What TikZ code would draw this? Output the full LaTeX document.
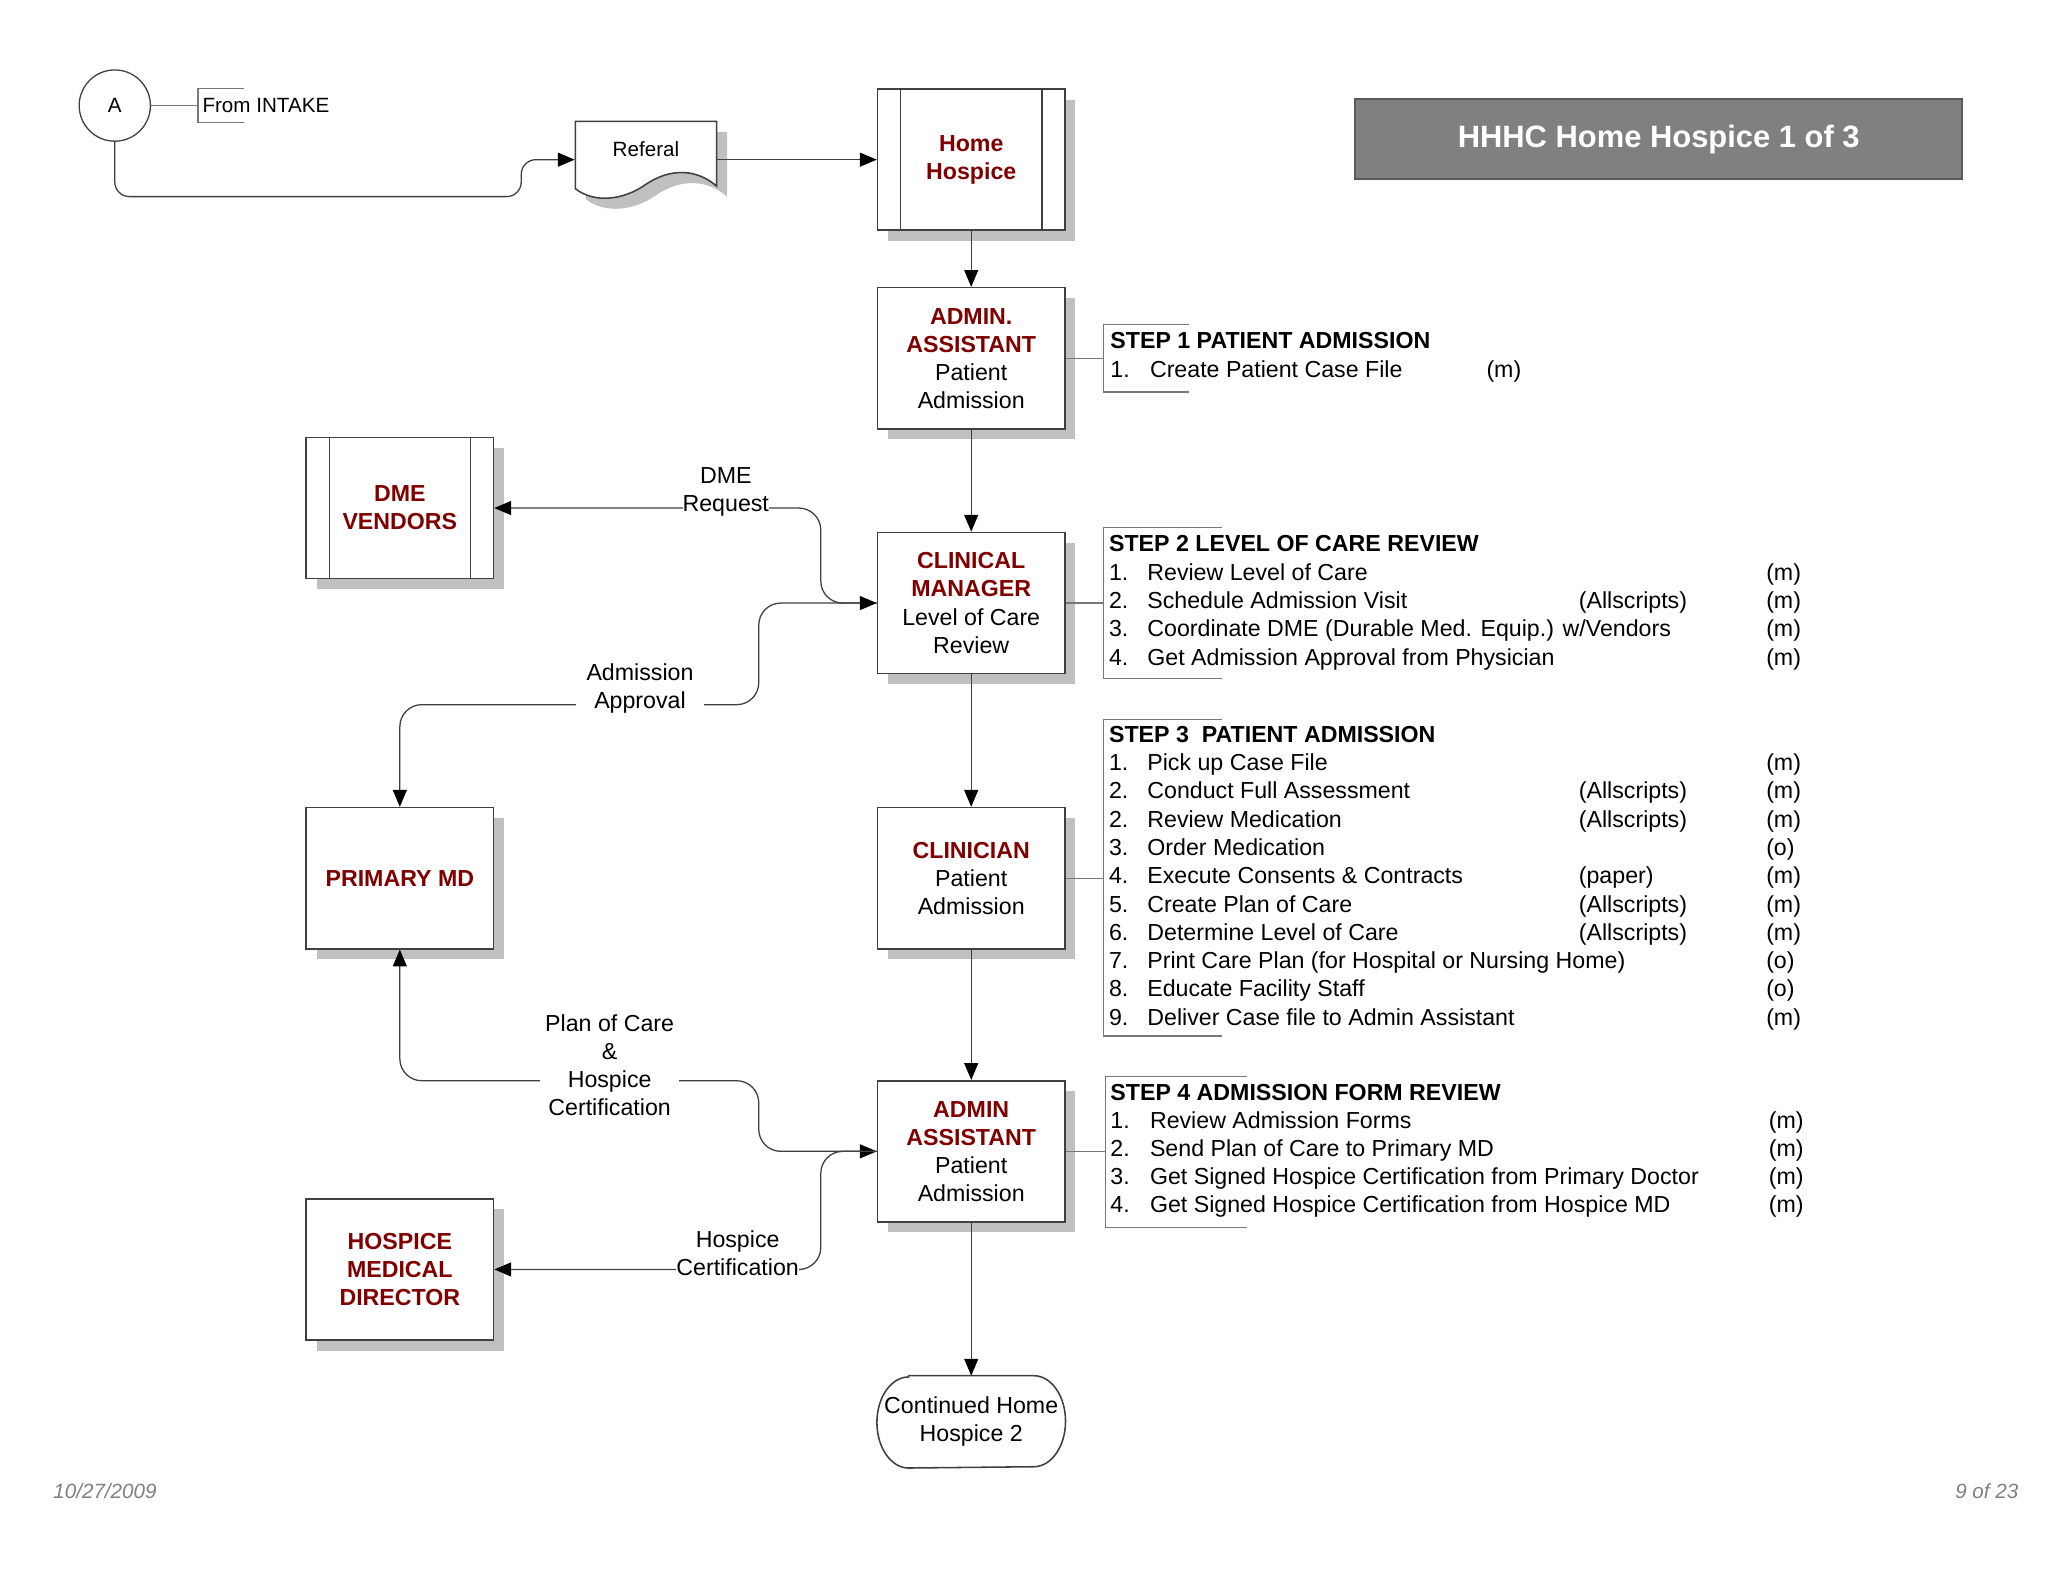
\documentclass[tikz,border=0pt]{standalone}
\usepackage{fontspec}
\setmainfont{Liberation Sans}
\usetikzlibrary{arrows.meta, shadows}

\definecolor{boxred}{RGB}{128,0,0}
\definecolor{linegray}{RGB}{64,64,64}
\definecolor{brgray}{RGB}{120,120,120}
\definecolor{shadowgray}{RGB}{192,192,192}
\definecolor{titlegray}{RGB}{128,128,128}
\definecolor{footgray}{RGB}{128,128,128}

\newcommand{\boxfont}{\fontsize{9}{10.9}\selectfont}
\newcommand{\smallfont}{\fontsize{8}{9.6}\selectfont}
\newcommand{\boxhead}[1]{\textcolor{boxred}{\textbf{#1}}}

\begin{document}
\begin{tikzpicture}[x=0.018cm, y=-0.018cm, >={Triangle[length=2.3mm,width=1.9mm,color=black]}, line width=0.5pt]
    \tikzstyle{every node}=[font=\boxfont, text=black]
    \tikzstyle{proc}=[rectangle, draw=linegray, line width=0.6pt, fill=white, minimum width=2.556cm, minimum height=1.926cm, align=center, inner sep=0pt, drop shadow={shadow xshift=0.144cm, shadow yshift=-0.144cm, fill=shadowgray, opacity=1}]
    \tikzstyle{term}=[rectangle, minimum width=2.556cm, minimum height=1.242cm, align=center, inner sep=0pt]
    \tikzstyle{conn}=[draw=linegray, ->]
    \tikzstyle{stepline}=[draw=brgray]
    \tikzstyle{lbl}=[fill=white, inner sep=0pt, align=center]
    \tikzstyle{item}=[anchor=base west, inner sep=0pt]
    \tikzstyle{stephead}=[item, font=\boxfont\bfseries]
    \tikzstyle{titlebox}=[rectangle, fill=titlegray, draw={rgb,255:red,90;green,90;blue,90}, line width=0.8pt, minimum width=8.28cm, minimum height=1.098cm, text=white, font=\fontsize{12}{14}\selectfont\bfseries]
    \tikzstyle{foot}=[inner sep=0pt, text=footgray, font=\smallfont\itshape]

    \path[use as bounding box, fill=white] (0,0) rectangle (1552,1199);

    % start connector and referral
    \node[circle, draw=linegray, minimum size=0.972cm, inner sep=0pt, font=\smallfont] (A) at (87,80) {A};
    \coordinate (fi) at (150,80);
    \draw[stepline] (A.east) -- (fi);
    \draw[stepline] (185,67) -- (150,67) -- (150,93) -- (185,93);
    \node[anchor=west, inner sep=0pt, font=\smallfont] (intake) at (153,80) {From INTAKE};

    \node[minimum width=1.926cm, minimum height=1.044cm, inner sep=0pt] (ref) at (489.5,121) {};
    \fill[shadowgray, shift={(8,8)}] (436,92) -- (543,92) -- (543,141) .. controls (528,128) and (508,127) .. (489,140) .. controls (472,152) and (450,154) .. (436,143) -- cycle;
    \filldraw[fill=white, draw=linegray, line width=0.6pt] (436,92) -- (543,92) -- (543,141) .. controls (528,128) and (508,127) .. (489,140) .. controls (472,152) and (450,154) .. (436,143) -- cycle;
    \node[inner sep=0pt, font=\smallfont] (reftxt) at (489.5,113) {Referal};

    % main column
    \node[proc] (hh)   at (736,121)   {\boxhead{Home}\\\boxhead{Hospice}};
    \node[proc] (adm1) at (736,271.5) {\boxhead{ADMIN.}\\\boxhead{ASSISTANT}\\Patient\\Admission};
    \node[proc] (cm)   at (736,457)   {\boxhead{CLINICAL}\\\boxhead{MANAGER}\\Level of Care\\Review};
    \node[proc] (clin) at (736,665.5) {\boxhead{CLINICIAN}\\Patient\\Admission};
    \node[proc] (adm2) at (736,872.5) {\boxhead{ADMIN}\\\boxhead{ASSISTANT}\\Patient\\Admission};
    \node[term] (cont) at (736,1077.5) {Continued Home\\Hospice 2};
    \draw[draw=linegray, line width=0.6pt] ([xshift=0.432cm]cont.north west) -- ([xshift=-0.432cm]cont.north east) arc[start angle=90, end angle=-90, x radius=0.432cm, y radius=0.621cm] -- ([xshift=0.432cm]cont.south west) arc[start angle=270, end angle=90, x radius=0.432cm, y radius=0.621cm] -- cycle;

    % left column
    \node[proc] (dme)  at (303,385)   {\boxhead{DME}\\\boxhead{VENDORS}};
    \node[proc] (prim) at (303,665.5) {\boxhead{PRIMARY MD}};
    \node[proc] (hmd)  at (303,962)   {\boxhead{HOSPICE}\\\boxhead{MEDICAL}\\\boxhead{DIRECTOR}};

    \foreach \b in {hh,dme}{
        \draw[draw=linegray] ([xshift=0.324cm]\b.north west) -- ([xshift=0.324cm]\b.south west);
        \draw[draw=linegray] ([xshift=-0.324cm]\b.north east) -- ([xshift=-0.324cm]\b.south east);
    }

    \node[titlebox] (title) at (1257,105.5) {HHHC Home Hospice 1 of 3};

    % connectors
    \draw[conn, rounded corners=0.2cm] (A.south) |- (395,149) |- (ref.west);
    \draw[conn] (ref.east) -- (hh.west);
    \draw[conn] (hh.south) -- (adm1.north);
    \draw[conn] (adm1.south) -- (cm.north);
    \draw[conn] (cm.south) -- (clin.north);
    \draw[conn] (clin.south) -- (adm2.north);
    \draw[conn] (adm2.south) -- (cont.north);

    \draw[conn, rounded corners=0.3cm] (cm.west) -| (622,385) -- (dme.east);
    \node[lbl] (dmereq) at (550,373) {DME\\Request};
    \draw[conn, <->, rounded corners=0.3cm] (prim.north) |- (575,534) |- (cm.west);
    \node[lbl, inner xsep=4pt] (aappr) at (485,522) {Admission\\Approval};
    \draw[conn, <->, rounded corners=0.3cm] (prim.south) |- (575,819) |- (adm2.west);
    \node[lbl, inner xsep=2pt] (poc) at (462,807) {Plan of Care\\\&\\Hospice\\Certification};
    \draw[conn, rounded corners=0.3cm] (adm2.west) -| (622,962) -- (hmd.east);
    \node[lbl] (hcert) at (559,950) {Hospice\\Certification};

    % step 1
    \coordinate (b1) at (836,271.5);
    \draw[stepline] (adm1.east) -- (b1);
    \draw[stepline] (901,246) -- (836,246) -- (836,297) -- (901,297);
    \node[stephead] (s1h) at (841,264) {STEP 1 PATIENT ADMISSION};
    \node[item] (s1n1) at (841,286) {1.};
    \node[item] (s1t1) at (871,286) {Create Patient Case File};
    \node[item] (s1r1) at (1126,286) {(m)};

    % step 2
    \coordinate (b2) at (836,457);
    \draw[stepline] (cm.east) -- (b2);
    \draw[stepline] (926,400) -- (836,400) -- (836,514) -- (926,514);
    \node[stephead] (s2h) at (840,418) {STEP 2 LEVEL OF CARE REVIEW};
    \foreach \num/\txt/\sys/\req [count=\i] in {
        {1.}/{Review Level of Care}/{}/{(m)},
        {2.}/{Schedule Admission Visit}/{(Allscripts)}/{(m)},
        {3.}/{Coordinate DME (Durable Med. Equip.) w/Vendors}/{}/{(m)},
        {4.}/{Get Admission Approval from Physician}/{}/{(m)}}{
        \node[item] (s2n\i) at (840,{440+21.35*(\i-1)}) {\num};
        \node[item] (s2t\i) at (869,{440+21.35*(\i-1)}) {\txt};
        \node[item] (s2s\i) at (1196,{440+21.35*(\i-1)}) {\sys};
        \node[item] (s2r\i) at (1338,{440+21.35*(\i-1)}) {\req};
    }

    % step 3
    \coordinate (b3) at (836,665.5);
    \draw[stepline] (clin.east) -- (b3);
    \draw[stepline] (926,545) -- (836,545) -- (836,785) -- (926,785);
    \node[stephead] (s3h) at (840,563) {STEP 3\ \ PATIENT ADMISSION};
    \foreach \num/\txt/\sys/\req [count=\i] in {
        {1.}/{Pick up Case File}/{}/{(m)},
        {2.}/{Conduct Full Assessment}/{(Allscripts)}/{(m)},
        {2.}/{Review Medication}/{(Allscripts)}/{(m)},
        {3.}/{Order Medication}/{}/{(o)},
        {4.}/{Execute Consents \& Contracts}/{(paper)}/{(m)},
        {5.}/{Create Plan of Care}/{(Allscripts)}/{(m)},
        {6.}/{Determine Level of Care}/{(Allscripts)}/{(m)},
        {7.}/{Print Care Plan (for Hospital or Nursing Home)}/{}/{(o)},
        {8.}/{Educate Facility Staff}/{}/{(o)},
        {9.}/{Deliver Case file to Admin Assistant}/{}/{(m)}}{
        \node[item] (s3n\i) at (840,{584+21.44*(\i-1)}) {\num};
        \node[item] (s3t\i) at (869,{584+21.44*(\i-1)}) {\txt};
        \node[item] (s3s\i) at (1196,{584+21.44*(\i-1)}) {\sys};
        \node[item] (s3r\i) at (1338,{584+21.44*(\i-1)}) {\req};
    }

    % step 4
    \coordinate (b4) at (838,872.5);
    \draw[stepline] (adm2.east) -- (b4);
    \draw[stepline] (945,816) -- (838,816) -- (838,930) -- (945,930);
    \node[stephead] (s4h) at (841,834) {STEP 4 ADMISSION FORM REVIEW};
    \foreach \num/\txt/\req [count=\i] in {
        {1.}/{Review Admission Forms}/{(m)},
        {2.}/{Send Plan of Care to Primary MD}/{(m)},
        {3.}/{Get Signed Hospice Certification from Primary Doctor}/{(m)},
        {4.}/{Get Signed Hospice Certification from Hospice MD}/{(m)}}{
        \node[item] (s4n\i) at (841,{855+21.35*(\i-1)}) {\num};
        \node[item] (s4t\i) at (871,{855+21.35*(\i-1)}) {\txt};
        \node[item] (s4r\i) at (1340,{855+21.35*(\i-1)}) {\req};
    }

    % footer
    \node[foot, anchor=west] (date) at (40,1130) {10/27/2009};
    \node[foot, anchor=east] (pagenum) at (1530,1130) {9 of 23};

\end{tikzpicture}
\end{document}
